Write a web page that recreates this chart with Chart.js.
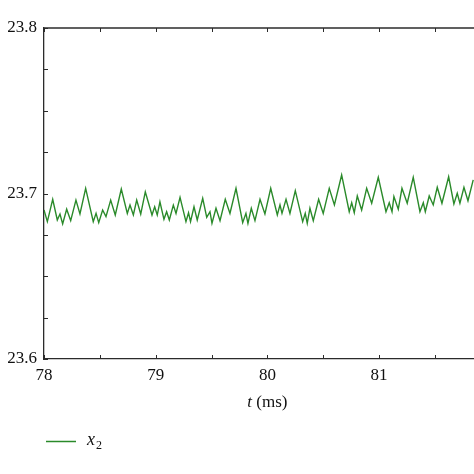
<!DOCTYPE html>
<html>
<head>
<meta charset="utf-8">
<script src="https://cdn.jsdelivr.net/npm/chart.js@4"></script>
<style>
html,body{margin:0;padding:0;background:#fff;}
#wrap{width:474px;height:474px;}
</style>
</head>
<body>
<div id="wrap"><canvas id="c" width="474" height="474"></canvas></div>
<script>
// ---- data ----
const t = [78.000,78.030,78.078,78.119,78.143,78.167,78.203,78.239,78.286,78.322,
78.373,78.441,78.466,78.490,78.525,78.555,78.597,78.638,78.692,78.746,
78.770,78.800,78.830,78.866,78.907,78.967,78.991,79.014,79.038,79.074,
79.098,79.122,79.158,79.182,79.218,79.271,79.294,79.312,79.343,79.372,
79.421,79.457,79.486,79.504,79.540,79.576,79.623,79.665,79.719,79.779,
79.808,79.826,79.856,79.889,79.934,79.978,80.030,80.089,80.113,80.131,
80.167,80.202,80.250,80.316,80.339,80.357,80.381,80.411,80.459,80.500,
80.554,80.600,80.665,80.733,80.755,80.778,80.805,80.844,80.889,80.934,
80.993,81.062,81.091,81.116,81.133,81.172,81.205,81.252,81.306,81.366,
81.396,81.414,81.449,81.485,81.521,81.563,81.623,81.670,81.700,81.724,
81.760,81.796,81.843];
const x2 = [23.6900,23.6830,23.6965,23.6840,23.6876,23.6816,23.6905,23.6836,23.6960,23.6876,
23.7031,23.6830,23.6880,23.6824,23.6900,23.6860,23.6960,23.6870,23.7027,23.6880,
23.6930,23.6870,23.6960,23.6876,23.7010,23.6870,23.6920,23.6870,23.6950,23.6844,
23.6890,23.6840,23.6930,23.6880,23.6977,23.6830,23.6884,23.6830,23.6920,23.6840,
23.6971,23.6856,23.6890,23.6820,23.6911,23.6836,23.6965,23.6880,23.7031,23.6824,
23.6880,23.6820,23.6911,23.6836,23.6965,23.6876,23.7031,23.6870,23.6931,23.6880,
23.6965,23.6880,23.7017,23.6830,23.6880,23.6820,23.6911,23.6836,23.6965,23.6880,
23.7031,23.6931,23.7112,23.6890,23.6944,23.6884,23.6985,23.6900,23.7031,23.6941,
23.7098,23.6890,23.6944,23.6890,23.6981,23.6905,23.7031,23.6941,23.7098,23.6890,
23.6944,23.6890,23.6985,23.6931,23.7037,23.6941,23.7101,23.6937,23.7001,23.6941,
23.7037,23.6956,23.7082];
const xTickValues = [78,78.5,79,79.5,80,80.5,81,81.5];
const xTickLabels = ['78','','79','','80','','81',''];
const yTickValues = [23.6,23.625,23.65,23.675,23.7,23.725,23.75,23.775,23.8];
const yTickLabels = ['23.6','','','','23.7','','','','23.8'];
const seriesName = 'x';
const seriesSub = '2';
const xTitleItalic = 't';
const xTitleRest = ' (ms)';
const xMin = 78, xMax = 81.85, yMin = 23.6, yMax = 23.8;

const AXIS = '#2b2b2b';
const GREEN = '#2a8a2a';
const FONT = '"Liberation Serif", "DejaVu Serif", serif';

const decor = {
  id: 'decor',
  afterDraw(chart) {
    const ctx = chart.ctx, a = chart.chartArea;
    const xs = chart.scales.x, ys = chart.scales.y;
    ctx.save();
    ctx.strokeStyle = AXIS;
    ctx.lineWidth = 1.3;
    // top frame line
    ctx.beginPath();
    ctx.moveTo(a.left, a.top); ctx.lineTo(a.right, a.top);
    ctx.stroke();
    ctx.lineWidth = 1;
    // inward ticks
    xTickValues.forEach(v => {
      const px = Math.round(xs.getPixelForValue(v)) + 0.5;
      ctx.beginPath();
      ctx.moveTo(px, a.bottom); ctx.lineTo(px, a.bottom - 4);
      ctx.moveTo(px, a.top); ctx.lineTo(px, a.top + 4);
      ctx.stroke();
    });
    yTickValues.forEach(v => {
      const py = Math.round(ys.getPixelForValue(v)) + 0.5;
      ctx.beginPath();
      ctx.moveTo(a.left, py); ctx.lineTo(a.left + 4, py);
      ctx.stroke();
    });
    // x axis title with italic t
    ctx.fillStyle = '#111';
    ctx.textBaseline = 'middle';
    const f1 = 'italic 17px ' + FONT, f2 = '17px ' + FONT;
    ctx.font = f1; const w1 = ctx.measureText(xTitleItalic).width;
    ctx.font = f2; const w2 = ctx.measureText(xTitleRest).width;
    const cx = xs.getPixelForValue(80);
    let sx = cx - (w1 + w2) / 2;
    const ty = 403;
    ctx.font = f1; ctx.textAlign = 'left'; ctx.fillText(xTitleItalic, sx, ty);
    ctx.font = f2; ctx.fillText(xTitleRest, sx + w1, ty);
    // legend
    ctx.strokeStyle = GREEN; ctx.lineWidth = 1.5;
    ctx.beginPath(); ctx.moveTo(46, 441.5); ctx.lineTo(76, 441.5); ctx.stroke();
    ctx.font = 'italic 18px ' + FONT;
    ctx.fillText(seriesName, 87, 440);
    const wx = ctx.measureText(seriesName).width;
    ctx.font = '12px ' + FONT;
    ctx.fillText(seriesSub, 87 + wx + 1, 446);
    ctx.restore();
  }
};

new Chart(document.getElementById('c'), {
  type: 'line',
  data: {
    datasets: [{
      label: seriesName + '\u2082',
      data: t.map((v, i) => ({x: v, y: x2[i]})),
      borderColor: GREEN,
      borderWidth: 1.4,
      pointRadius: 0,
      tension: 0,
      fill: false
    }]
  },
  options: {
    responsive: false,
    animation: false,
    devicePixelRatio: 1,
    layout: {padding: {top: 28, right: 0, bottom: 0, left: 0}},
    plugins: {legend: {display: false}, tooltip: {enabled: false}},
    scales: {
      x: {
        type: 'linear', min: xMin, max: xMax,
        afterBuildTicks(s) { s.ticks = xTickValues.map(v => ({value: v})); },
        afterFit(s) { s.height = 115; },
        grid: {drawOnChartArea: false, drawTicks: false},
        border: {display: true, color: AXIS, width: 1.3},
        ticks: {
          padding: 6, color: '#111', maxRotation: 0, autoSkip: false,
          font: {family: FONT, size: 17},
          callback: (v, i) => xTickLabels[i]
        }
      },
      y: {
        type: 'linear', min: yMin, max: yMax,
        afterBuildTicks(s) { s.ticks = yTickValues.map(v => ({value: v})); },
        afterFit(s) { s.width = 44; },
        grid: {drawOnChartArea: false, drawTicks: false},
        border: {display: true, color: AXIS, width: 1.3},
        ticks: {
          padding: 7, color: '#111', autoSkip: false,
          font: {family: FONT, size: 17},
          callback: (v, i) => yTickLabels[i]
        }
      }
    }
  },
  plugins: [decor]
});
</script>
</body>
</html>
